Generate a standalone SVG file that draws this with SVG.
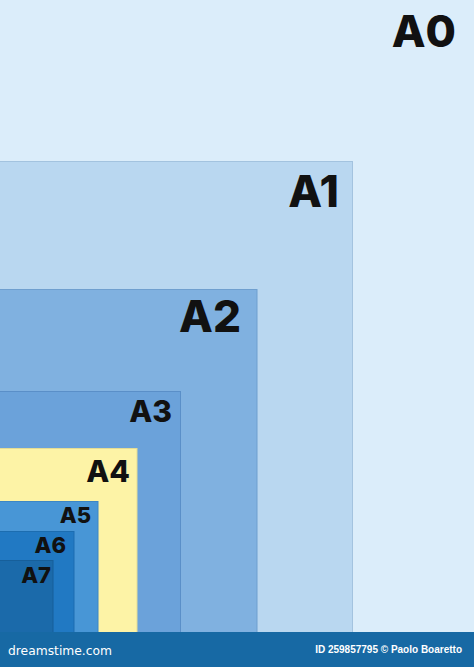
<svg xmlns="http://www.w3.org/2000/svg" width="474" height="667" viewBox="0 0 474 667">
<style>
.sheet{stroke-width:1}
.lbl{font-family:Inter,"Liberation Sans",sans-serif;font-weight:800;fill:#111;text-anchor:end}
.foot{font-family:"Liberation Sans",Arial,sans-serif;font-weight:bold;fill:#fff}
</style>
<g id="A0"><rect x="0" y="0" width="474" height="632" fill="#dbedfa"/><text class="lbl" x="456" y="47" font-size="44">A0</text></g>
<g id="A1"><rect class="sheet" x="-1" y="161.5" width="353.5" height="472" fill="#b9d7f0" stroke="#a3c3df"/><text class="lbl" x="339" y="207" font-size="44">A1</text></g>
<g id="A2"><rect class="sheet" x="-1" y="289.5" width="258" height="344" fill="#80b1e0" stroke="#6f9fcf"/><text class="lbl" x="241" y="332" font-size="44">A2</text></g>
<g id="A3"><rect class="sheet" x="-1" y="391.5" width="181.5" height="242" fill="#6ba2da" stroke="#5a8fc8"/><text class="lbl" x="172" y="422" font-size="30">A3</text></g>
<g id="A4"><rect class="sheet" x="-1" y="448.5" width="138" height="185" fill="#fdf3a6" stroke="#e5dc94"/><text class="lbl" x="130" y="482" font-size="30">A4</text></g>
<g id="A5"><rect class="sheet" x="-1" y="501.5" width="99" height="132" fill="#4896d6" stroke="#3d86c4"/><text class="lbl" x="91" y="523" font-size="22">A5</text></g>
<g id="A6"><rect class="sheet" x="-1" y="531.5" width="75" height="102" fill="#2179c3" stroke="#1c6db0"/><text class="lbl" x="66" y="553" font-size="22">A6</text></g>
<g id="A7"><rect class="sheet" x="-1" y="560.5" width="54" height="73" fill="#1b6aaa" stroke="#175f9a"/><text class="lbl" x="51" y="583" font-size="22">A7</text></g>
<g id="footer"><rect x="0" y="632" width="474" height="35" fill="#1769a4"/>
<text x="8" y="655" font-size="13" fill="#fff" style="font-family:'DejaVu Sans',sans-serif;font-weight:normal" textLength="104" lengthAdjust="spacingAndGlyphs">dreamstime.com</text>
<text class="foot" x="462" y="653" font-size="10" text-anchor="end">ID 259857795 © Paolo Boaretto</text></g>
</svg>
